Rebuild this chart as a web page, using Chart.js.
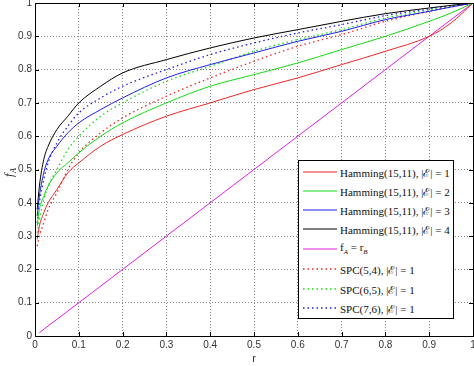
<!DOCTYPE html>
<html>
<head>
<meta charset="utf-8">
<script src="https://cdn.jsdelivr.net/npm/chart.js@4.4.1/dist/chart.umd.min.js"></script>
<style>
  html, body { margin: 0; padding: 0; background: #fff; overflow: hidden; }
  body { width: 474px; height: 366px; position: relative; }
  #wrap { position: absolute; left: 0; top: -10px; width: 480px; height: 376px; }
  #legend {
    position: absolute; left: 298px; top: 160px; width: 154px; height: 157px;
    border: 1px solid #000; background: #fff;
    font-family: "Liberation Serif", "DejaVu Serif", serif; font-size: 11px; color: #111;
  }
  #legend .row { position: absolute; left: 4px; height: 14px; display: flex; align-items: center; white-space: nowrap; }
  #legend svg { width: 34px; height: 4px; margin-right: 3px; }
  #legend sub { font-size: 7px; font-style: italic; }
</style>
</head>
<body>
<div id="wrap"><canvas id="chart"></canvas></div>
<div id="legend"></div>
<script>
const rValues = [0.005, 0.01, 0.02, 0.03, 0.05, 0.075, 0.1, 0.15, 0.2, 0.3, 0.4, 0.5, 0.6, 0.7, 0.8, 0.9, 0.95, 1.0];

// Hamming(15,11), |E| = 1..4
const hamming1 = [0.29, 0.33, 0.37, 0.40, 0.44, 0.49, 0.52, 0.57, 0.605, 0.66, 0.70, 0.74, 0.775, 0.815, 0.855, 0.90, 0.94, 1.0];
const hamming2 = [0.33, 0.38, 0.42, 0.45, 0.49, 0.52, 0.55, 0.60, 0.64, 0.70, 0.75, 0.785, 0.82, 0.86, 0.90, 0.945, 0.97, 1.0];
const hamming3 = [0.36, 0.42, 0.49, 0.53, 0.57, 0.61, 0.64, 0.68, 0.715, 0.775, 0.815, 0.85, 0.885, 0.915, 0.95, 0.975, 0.988, 1.0];
const hamming4 = [0.38, 0.45, 0.53, 0.57, 0.62, 0.66, 0.70, 0.75, 0.79, 0.83, 0.865, 0.895, 0.92, 0.945, 0.968, 0.985, 0.993, 1.0];

// SPC codes, |E| = 1
const spc54 = [0.27, 0.30, 0.34, 0.38, 0.43, 0.50, 0.55, 0.61, 0.655, 0.72, 0.775, 0.825, 0.87, 0.905, 0.945, 0.975, 0.988, 1.0];
const spc65 = [0.31, 0.35, 0.41, 0.45, 0.50, 0.56, 0.60, 0.66, 0.70, 0.765, 0.81, 0.855, 0.89, 0.92, 0.955, 0.978, 0.99, 1.0];
const spc76 = [0.34, 0.40, 0.47, 0.52, 0.58, 0.63, 0.67, 0.715, 0.75, 0.80, 0.845, 0.88, 0.91, 0.935, 0.962, 0.982, 0.992, 1.0];

// reference line f_A = r_B
const diagR = [0.01, 1.0];
const diagF = [0.01, 1.0];

const xTicks = [0, 0.1, 0.2, 0.3, 0.4, 0.5, 0.6, 0.7, 0.8, 0.9, 1];
const yTicks = [0, 0.1, 0.2, 0.3, 0.4, 0.5, 0.6, 0.7, 0.8, 0.9, 1];

const series = [
  { label: 'Hamming(15,11), |ℰ| = 1', xs: rValues, ys: hamming1, color: 'rgb(236,40,40)', dash: [], width: 1 },
  { label: 'Hamming(15,11), |ℰ| = 2', xs: rValues, ys: hamming2, color: 'rgb(20,220,20)', dash: [], width: 1 },
  { label: 'Hamming(15,11), |ℰ| = 3', xs: rValues, ys: hamming3, color: 'rgb(30,30,230)', dash: [], width: 1 },
  { label: 'Hamming(15,11), |ℰ| = 4', xs: rValues, ys: hamming4, color: '#000', dash: [], width: 1 },
  { label: 'fA = rB', html: 'f<sub>A</sub> = r<sub>B</sub>', xs: diagR, ys: diagF, color: 'rgb(225,30,225)', dash: [], width: 1 },
  { label: 'SPC(5,4), |ℰ| = 1', xs: rValues, ys: spc54, color: 'rgb(236,40,40)', dash: [1.5, 3], width: 1.3 },
  { label: 'SPC(6,5), |ℰ| = 1', xs: rValues, ys: spc65, color: 'rgb(20,220,20)', dash: [1.5, 3], width: 1.3 },
  { label: 'SPC(7,6), |ℰ| = 1', xs: rValues, ys: spc76, color: 'rgb(30,30,230)', dash: [1.5, 3], width: 1.3 }
];

// frame + inward ticks like matlab
const framePlugin = {
  id: 'frame',
  afterDatasetsDraw(chart) {
    const { ctx, chartArea: a, scales } = chart;
    ctx.save();
    ctx.strokeStyle = '#000';
    ctx.lineWidth = 1;
    ctx.setLineDash([]);
    ctx.beginPath();
    xTicks.forEach(v => {
      const px = Math.round(scales.x.getPixelForValue(v)) + 0.5;
      ctx.moveTo(px, a.bottom); ctx.lineTo(px, a.bottom - 4);
      ctx.moveTo(px, a.top); ctx.lineTo(px, a.top + 4);
    });
    yTicks.forEach(v => {
      const py = Math.round(scales.y.getPixelForValue(v)) + 0.5;
      ctx.moveTo(a.left, py); ctx.lineTo(a.left + 4, py);
      ctx.moveTo(a.right, py); ctx.lineTo(a.right - 4, py);
    });
    ctx.stroke();
    ctx.strokeRect(Math.round(a.left) + 0.5, Math.round(a.top) + 0.5, Math.round(a.right - a.left), Math.round(a.bottom - a.top));
    ctx.restore();
  }
};

// y title f_A with subscript, rotated
const yTitlePlugin = {
  id: 'ytitle',
  afterDraw(chart) {
    const { ctx } = chart;
    ctx.save();
    ctx.translate(10, 182);
    ctx.rotate(-Math.PI / 2);
    ctx.fillStyle = '#222';
    ctx.textBaseline = 'alphabetic';
    ctx.font = 'italic 12px "Liberation Serif", serif';
    ctx.fillText('f', -5, 3);
    ctx.font = 'italic 8px "Liberation Serif", serif';
    ctx.fillText('A', -1, 6);
    ctx.restore();
  }
};

const datasets = series.map(s => ({
  label: s.label,
  data: s.xs.map((x, i) => ({ x: x, y: s.ys[i] })),
  borderColor: s.color,
  borderWidth: s.width,
  borderDash: s.dash,
  pointRadius: 0,
  showLine: true,
  fill: false,
  cubicInterpolationMode: 'monotone'
}));

const tickFont = { family: '"Liberation Sans", Arial, sans-serif', size: 10 };

new Chart(document.getElementById('chart'), {
  type: 'scatter',
  data: { datasets: datasets },
  options: {
    responsive: true,
    maintainAspectRatio: false,
    animation: false,
    layout: { padding: { top: 13, right: 7, left: 0, bottom: 0 } },
    plugins: { legend: { display: false }, tooltip: { enabled: false } },
    scales: {
      x: {
        type: 'linear', min: 0, max: 1,
        afterFit(scale) { scale.height = 30; },
        afterBuildTicks(scale) { scale.ticks = xTicks.map(v => ({ value: v })); },
        ticks: { font: tickFont, color: '#333', padding: 3, maxRotation: 0, callback: v => String(v) },
        grid: { color: '#888', drawTicks: false },
        border: { display: false, dash: [1, 2] },
        title: { display: true, text: 'r', font: { family: '"Liberation Sans", Arial, sans-serif', size: 11 }, color: '#333', padding: 0 }
      },
      y: {
        type: 'linear', min: 0, max: 1,
        afterFit(scale) { scale.width = 35; },
        afterBuildTicks(scale) { scale.ticks = yTicks.map(v => ({ value: v })); },
        ticks: { font: tickFont, color: '#333', padding: 3, callback: v => String(v) },
        grid: { color: '#888', drawTicks: false },
        border: { display: false, dash: [1, 2] }
      }
    }
  },
  plugins: [framePlugin, yTitlePlugin]
});

// legend box drawn as html so subscripts stay real text
const legendTops = [164, 183, 202, 221, 241, 261, 281, 300];
const legendEl = document.getElementById('legend');
series.forEach((s, i) => {
  const row = document.createElement('div');
  row.className = 'row';
  row.style.top = (legendTops[i] - 160) + 'px';
  const dash = s.dash.length ? `stroke-dasharray="${s.dash.join(' ')}"` : '';
  row.innerHTML = `<svg viewBox="0 0 34 4"><line x1="0" y1="2" x2="34" y2="2" stroke="${s.color}" stroke-width="${s.width}" ${dash}/></svg><span>${s.html || s.label}</span>`;
  legendEl.appendChild(row);
});
</script>
</body>
</html>
